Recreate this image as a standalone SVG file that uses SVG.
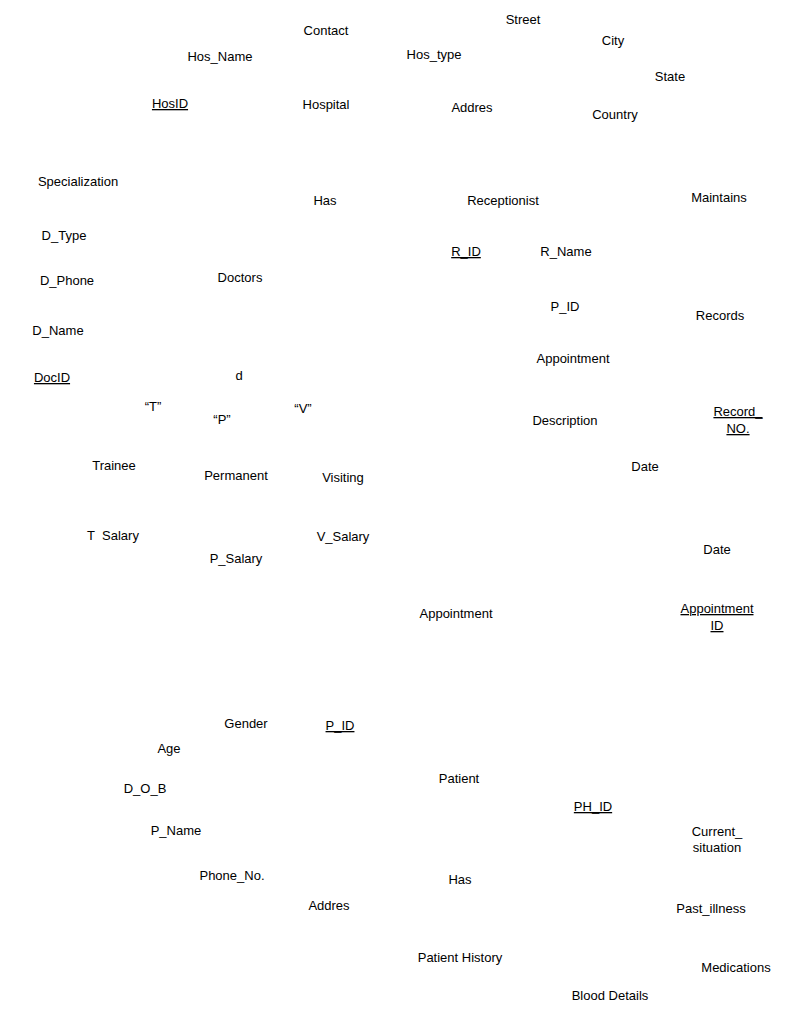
<svg xmlns="http://www.w3.org/2000/svg" width="812" height="1022" viewBox="0 0 812 1022">
<style>
text{font-family:"Liberation Sans",Arial,sans-serif;font-size:13px;fill:#000;text-anchor:middle}
.k{text-decoration:underline}
</style>
<rect width="812" height="1022" fill="#fff"/>
<g id="n-contact"><text x="326" y="35">Contact</text></g>
<g id="n-street"><text x="523" y="24">Street</text></g>
<g id="n-city"><text x="613" y="45">City</text></g>
<g id="n-hosname"><text x="220" y="61">Hos_Name</text></g>
<g id="n-hostype"><text x="434" y="59">Hos_type</text></g>
<g id="n-state"><text x="670" y="81">State</text></g>
<g id="n-hosid"><text class="k" x="170" y="108">HosID</text></g>
<g id="n-hospital"><text x="326" y="109">Hospital</text></g>
<g id="n-addres1"><text x="472" y="112">Addres</text></g>
<g id="n-country"><text x="615" y="119">Country</text></g>
<g id="n-spec"><text x="78" y="186">Specialization</text></g>
<g id="n-has1"><text x="325" y="205">Has</text></g>
<g id="n-recep"><text x="503" y="205">Receptionist</text></g>
<g id="n-maintains"><text x="719" y="202">Maintains</text></g>
<g id="n-dtype"><text x="64" y="240">D_Type</text></g>
<g id="n-rid"><text class="k" x="466" y="256">R_ID</text></g>
<g id="n-rname"><text x="566" y="256">R_Name</text></g>
<g id="n-dphone"><text x="67" y="285">D_Phone</text></g>
<g id="n-doctors"><text x="240" y="282">Doctors</text></g>
<g id="n-pid1"><text x="565" y="311">P_ID</text></g>
<g id="n-records"><text x="720" y="320">Records</text></g>
<g id="n-dname"><text x="58" y="335">D_Name</text></g>
<g id="n-appt1"><text x="573" y="363">Appointment</text></g>
<g id="n-docid"><text class="k" x="52" y="382">DocID</text></g>
<g id="n-d"><text x="239" y="380">d</text></g>
<g id="n-t"><text x="153" y="411">“T”</text></g>
<g id="n-v"><text x="303" y="413">“V”</text></g>
<g id="n-p"><text x="222" y="424">“P”</text></g>
<g id="n-desc"><text x="565" y="425">Description</text></g>
<g id="n-recno"><text class="k" x="738" y="416">Record_</text><text class="k" x="738" y="433">NO.</text></g>
<g id="n-trainee"><text x="114" y="470">Trainee</text></g>
<g id="n-date1"><text x="645" y="471">Date</text></g>
<g id="n-perm"><text x="236" y="480">Permanent</text></g>
<g id="n-visiting"><text x="343" y="482">Visiting</text></g>
<g id="n-tsal"><text x="113" y="540" xml:space="preserve">T  Salary</text></g>
<g id="n-vsal"><text x="343" y="541">V_Salary</text></g>
<g id="n-date2"><text x="717" y="554">Date</text></g>
<g id="n-psal"><text x="236" y="563">P_Salary</text></g>
<g id="n-appt2"><text x="456" y="618">Appointment</text></g>
<g id="n-apptid"><text class="k" x="717" y="613">Appointment</text><text class="k" x="717" y="630">ID</text></g>
<g id="n-gender"><text x="246" y="728">Gender</text></g>
<g id="n-pid2"><text class="k" x="340" y="730">P_ID</text></g>
<g id="n-age"><text x="169" y="753">Age</text></g>
<g id="n-patient"><text x="459" y="783">Patient</text></g>
<g id="n-dob"><text x="145" y="793">D_O_B</text></g>
<g id="n-phid"><text class="k" x="593" y="811">PH_ID</text></g>
<g id="n-pname"><text x="176" y="835">P_Name</text></g>
<g id="n-cur"><text x="717" y="836">Current_</text><text x="717" y="852">situation</text></g>
<g id="n-phone"><text x="232" y="880">Phone_No.</text></g>
<g id="n-has2"><text x="460" y="884">Has</text></g>
<g id="n-addres2"><text x="329" y="910">Addres</text></g>
<g id="n-past"><text x="711" y="913">Past_illness</text></g>
<g id="n-ph"><text x="460" y="962">Patient History</text></g>
<g id="n-med"><text x="736" y="972">Medications</text></g>
<g id="n-blood"><text x="610" y="1000">Blood Details</text></g>
<g id="connectors"></g>
</svg>
